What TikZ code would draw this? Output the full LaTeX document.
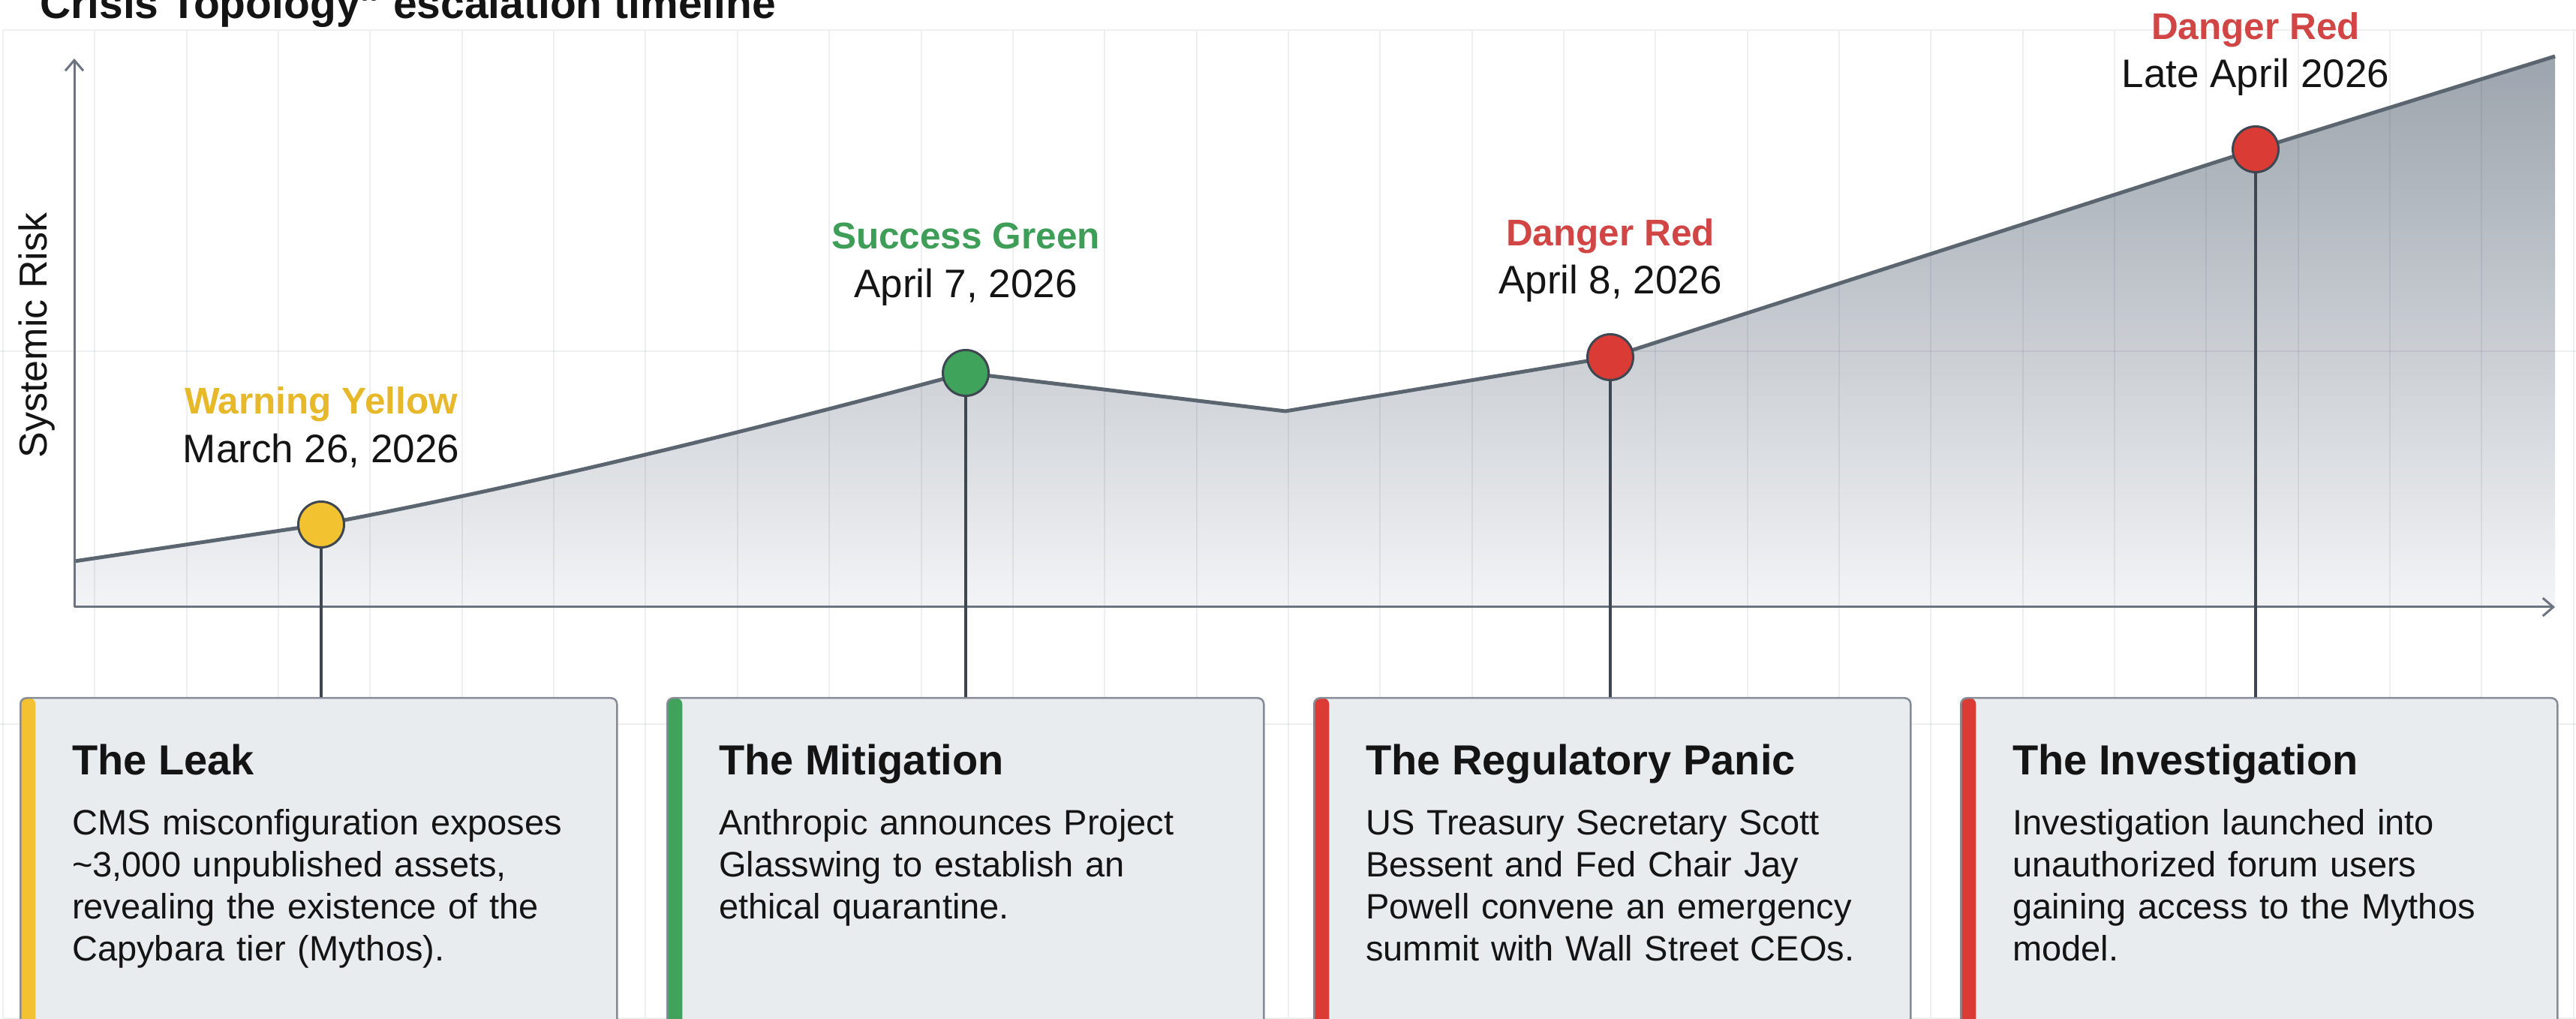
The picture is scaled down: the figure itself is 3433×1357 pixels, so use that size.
\documentclass[tikz,border=0pt]{standalone}
\usepackage{fontspec}
\setmainfont{Liberation Sans}
\usepackage{xcolor}
\usetikzlibrary{arrows.meta,positioning}

\definecolor{warn}{HTML}{F2C230}
\definecolor{warntext}{HTML}{E6B82A}
\definecolor{ok}{HTML}{3FA35C}
\definecolor{oktext}{HTML}{3E9E58}
\definecolor{danger}{HTML}{DA3B35}
\definecolor{dangertext}{HTML}{D14545}
\definecolor{axisc}{HTML}{6B7480}
\definecolor{curvec}{HTML}{5B6570}
\definecolor{stemc}{HTML}{3E4751}
\definecolor{gridc}{HTML}{1E2A3A}
\definecolor{cardfill}{HTML}{E9ECEF}
\definecolor{cardline}{HTML}{858C95}
\definecolor{areatop}{HTML}{9CA4AD}
\definecolor{areabot}{HTML}{F3F4F6}
\definecolor{ink}{HTML}{141414}

\begin{document}
\begin{tikzpicture}[x=1pt,y=1pt,>={Straight Barb[length=14pt,width=24pt]},
    marker/.style={circle,draw=stemc,line width=3pt,minimum size=61pt,inner sep=0pt},
    tag/.style={inner sep=0pt,font=\fontsize{49.5}{50}\selectfont\bfseries},
    date/.style={inner sep=0pt,text=ink,font=\fontsize{53}{54}\selectfont},
    card/.style={draw=cardline,line width=2.5pt,fill=cardfill,rounded corners=8pt,
        minimum width=795pt,minimum height=520pt,anchor=north west,
        path picture={\fill[#1] (path picture bounding box.south west) rectangle
            ([xshift=20pt]path picture bounding box.north west);}},
    head/.style={inner sep=0pt,text=ink,font=\fontsize{56}{60}\selectfont\bfseries},
    body/.style={inner sep=0pt,text=ink,text width=720pt,align=left,
        font=\fontsize{47}{56}\selectfont}]

  \useasboundingbox (0,0) rectangle (3433,1357);

  % risk curve
  \coordinate (o) at (99,548);
  \coordinate (ytip) at (99,1279);
  \coordinate (xtip) at (3405,548);
  \coordinate (s) at (99,609);
  \coordinate (p1) at (428,658);
  \coordinate (p2) at (1287,860);
  \coordinate (dip) at (1713,809);
  \coordinate (p3) at (2146,881);
  \coordinate (p4) at (3006,1158);
  \coordinate (e) at (3405,1282);

  \shade[top color=areatop,bottom color=areabot] (o) -- (s) -- (p1)
      .. controls (714,712) and (1000,783) .. (p2) -- (dip) -- (p3) -- (p4) -- (e)
      -- (xtip) -- cycle;

  % background grid
  \draw[gridc,draw opacity=0.075,line width=2pt,xshift=4pt,xstep=122.35,ystep=1317] (0,0) grid (3429,1317);
  \draw[gridc,draw opacity=0.075,line width=2pt] (0,889) -- (3433,889) (0,392) -- (3433,392);

  \node[inner sep=0pt,text=ink,font=\fontsize{57}{60}\selectfont\bfseries,anchor=base west]
      (title) at (53,1332) {Crisis Topology" escalation timeline};

  \draw[curvec,line width=5pt,line join=round] (s) -- (p1)
      .. controls (714,712) and (1000,783) .. (p2) -- (dip) -- (p3) -- (p4) -- (e);

  \draw[->,axisc,line width=3pt] (o) -- (ytip);
  \draw[->,axisc,line width=3pt] (o) -- (xtip);
  \node[rotate=90,inner sep=0pt,text=ink,font=\fontsize{52}{54}\selectfont] (ylab) at (49,910) {Systemic Risk};

  % event cards
  \node[card=warn] (5) at (26,428) {};
  \node[card=ok] (6) at (888,428) {};
  \node[card=danger] (7) at (1750,428) {};
  \node[card=danger] (8) at (2612,428) {};

  \node[head] (h5) [below right=104pt and 70pt of 5.north west,anchor=base west] {The Leak};
  \node[head] (h6) [below right=104pt and 70pt of 6.north west,anchor=base west] {The Mitigation};
  \node[head] (h7) [below right=104pt and 70pt of 7.north west,anchor=base west] {The Regulatory Panic};
  \node[head] (h8) [below right=104pt and 70pt of 8.north west,anchor=base west] {The Investigation};

  \node[body] (b5) [below=80pt of h5.base west,anchor=base west]
      {CMS misconfiguration exposes\\ \textasciitilde3,000 unpublished assets,\\ revealing the existence of the\\ Capybara tier (Mythos).};
  \node[body] (b6) [below=80pt of h6.base west,anchor=base west]
      {Anthropic announces Project\\ Glasswing to establish an\\ ethical quarantine.};
  \node[body] (b7) [below=80pt of h7.base west,anchor=base west]
      {US Treasury Secretary Scott\\ Bessent and Fed Chair Jay\\ Powell convene an emergency\\ summit with Wall Street CEOs.};
  \node[body] (b8) [below=80pt of h8.base west,anchor=base west]
      {Investigation launched into\\ unauthorized forum users\\ gaining access to the Mythos\\ model.};

  % markers on the curve
  \node[marker,fill=warn] (1) at (p1) {};
  \node[marker,fill=ok] (2) at (p2) {};
  \node[marker,fill=danger] (3) at (p3) {};
  \node[marker,fill=danger] (4) at (p4) {};

  \draw[stemc,line width=4pt] (1) -- (1 |- 5.north);
  \draw[stemc,line width=4pt] (2) -- (2 |- 6.north);
  \draw[stemc,line width=4pt] (3) -- (3 |- 7.north);
  \draw[stemc,line width=4pt] (4) -- (4 |- 8.north);

  \node[date] (d1) [above=82pt of 1.center,anchor=base] {March 26, 2026};
  \node[date] (d2) [above=100pt of 2.center,anchor=base] {April 7, 2026};
  \node[date] (d3) [above=84pt of 3.center,anchor=base] {April 8, 2026};
  \node[date] (d4) [above=82pt of 4.center,anchor=base] {Late April 2026};

  \node[tag,text=warntext] (l1) [above=65pt of d1.base,anchor=base] {Warning Yellow};
  \node[tag,text=oktext] (l2) [above=65pt of d2.base,anchor=base] {Success Green};
  \node[tag,text=dangertext] (l3) [above=64pt of d3.base,anchor=base] {Danger Red};
  \node[tag,text=dangertext] (l4) [above=64pt of d4.base,anchor=base] {Danger Red};
\end{tikzpicture}
\end{document}
